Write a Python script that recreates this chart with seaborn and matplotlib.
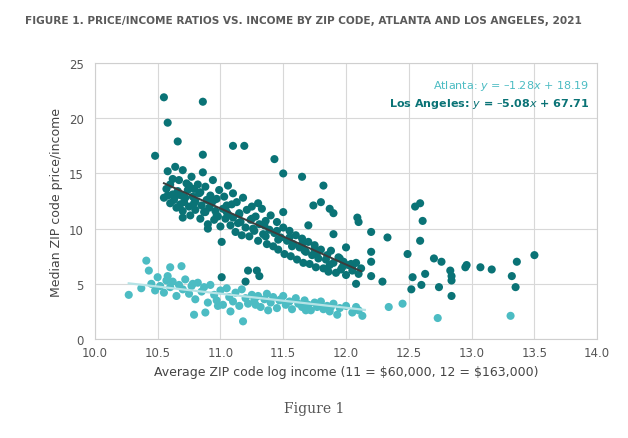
import matplotlib
matplotlib.use("Agg")
import matplotlib.pyplot as plt
import seaborn as sns
import numpy as np
import pandas as pd

# Los Angeles points (log income, price/income)
la_x = [10.55,10.86,10.58,10.66,10.48,10.86,11.10,11.19,11.43,11.50,11.65,11.82,11.74,11.80,11.87,11.90,
        12.09,12.10,12.20,12.33,12.55,12.59,12.61,12.59,12.49,12.70,12.76,12.83,12.84,12.84,12.95,12.96,
        13.07,13.16,13.36,13.50,13.32,13.35,12.84,12.74,12.63,12.53,12.52,12.60,12.29,12.20,12.08,12.20,12.20,
        11.01,11.22,11.29,11.31,11.20,11.01,
        10.55,10.57,10.58,10.60,10.60,10.62,10.63,10.64,10.65,10.66,10.67,10.68,10.69,10.70,10.70,10.72,10.73,
        10.74,10.75,10.76,10.77,10.78,10.79,10.80,10.80,10.82,10.83,10.84,10.85,10.86,10.87,10.88,10.89,10.90,
        10.91,10.92,10.93,10.94,10.95,10.96,10.97,10.98,10.99,11.00,11.02,11.03,11.04,11.05,11.06,11.08,11.09,
        11.10,11.12,11.13,11.14,11.15,11.17,11.18,11.20,11.21,11.23,11.24,11.25,11.27,11.28,11.30,11.31,11.33,
        11.34,11.36,11.37,11.39,11.40,11.42,11.43,11.45,11.46,11.48,11.50,11.51,11.53,11.55,11.56,11.58,11.60,
        11.61,11.63,11.65,11.66,11.68,11.70,11.71,11.73,11.75,11.76,11.78,11.80,11.82,11.84,11.86,11.88,11.90,
        11.92,11.94,11.96,11.98,12.00,12.02,12.05,12.08,12.10,12.12,10.62,10.75,10.84,10.95,11.05,11.15,11.25,
        11.35,11.45,11.55,11.65,11.75,11.85,11.95,12.05,10.70,10.90,11.10,11.30,11.50,11.70,11.90,12.00,
        10.58,10.64,10.71,10.79,10.88,10.97,11.06,11.16,11.26,11.36,11.46,11.57,11.67,11.77,11.87,11.97,12.04]
la_y = [21.9,21.5,19.6,17.9,16.6,16.7,17.5,17.5,16.3,15.0,14.7,13.9,12.1,12.4,11.8,11.4,
        11.0,10.6,9.7,9.2,12.0,12.3,10.7,8.9,7.7,7.3,7.0,6.2,5.7,5.3,6.5,6.7,
        6.5,6.3,7.0,7.6,5.7,4.7,3.9,4.7,5.9,5.6,4.5,4.9,5.2,5.7,5.0,7.9,7.0,
        5.6,6.2,6.2,5.7,5.2,8.8,
        12.8,13.6,15.2,12.3,14.0,13.1,12.6,15.6,11.9,13.4,14.4,12.2,13.0,15.3,11.6,12.8,14.1,
        13.5,12.0,11.2,14.7,12.9,13.6,11.7,12.5,14.0,13.2,10.9,12.1,15.1,11.5,13.8,12.6,10.4,
        11.9,13.0,12.3,14.4,10.8,11.6,12.7,11.1,13.5,10.2,11.8,12.9,10.9,11.5,13.9,10.3,12.2,
        11.0,9.7,12.4,10.5,11.3,9.4,12.8,10.1,11.7,9.3,10.8,12.0,9.8,11.1,8.9,10.4,11.8,
        9.5,10.7,8.6,9.9,11.2,8.4,9.6,10.6,8.1,9.2,10.1,7.7,8.9,9.8,7.5,8.6,9.4,
        7.2,8.3,9.1,6.9,7.9,8.8,6.8,7.6,8.5,6.5,7.3,8.1,6.4,7.2,6.1,8.0,6.9,
        6.0,7.4,6.3,7.0,5.8,6.7,6.2,6.9,5.9,6.4,14.5,13.9,13.3,12.6,12.1,11.4,10.9,
        10.3,9.8,9.2,8.6,8.1,7.6,7.3,6.6,11.0,10.0,13.2,12.3,11.5,10.3,9.5,8.3,
        13.0,12.9,12.4,12.3,11.5,11.2,11.3,10.6,10.0,9.3,9.0,8.4,8.0,7.8,6.7,6.5,6.8]

# Atlanta points
atl_x = [10.27,10.41,10.43,10.37,10.60,10.69,10.79,11.18,11.93,12.13,12.34,12.45,12.73,13.31,
         10.45,10.48,10.50,10.52,10.55,10.57,10.60,10.62,10.65,10.67,10.70,10.72,10.75,10.77,10.80,10.82,
         10.85,10.87,10.90,10.92,10.95,10.97,11.00,11.02,11.05,11.07,11.10,11.12,11.15,11.17,11.20,11.22,
         11.25,11.27,11.30,11.32,11.35,11.37,11.40,11.42,11.45,11.47,11.50,11.52,11.55,11.57,11.60,11.62,
         11.65,11.67,11.70,11.72,11.75,11.77,11.80,11.82,11.85,11.87,11.90,11.95,12.00,12.05,12.08,12.10,
         10.58,10.78,10.98,11.08,11.28,11.48,11.68,11.88,10.88,11.38]
atl_y = [4.0,7.1,6.2,4.6,6.5,6.6,2.2,1.6,2.2,2.1,2.9,3.2,1.9,2.1,
         5.0,4.4,5.6,4.8,4.2,5.3,4.7,5.2,3.9,4.9,4.5,5.4,4.1,4.8,3.6,5.1,
         4.3,4.7,3.3,4.9,4.0,3.5,4.4,3.1,4.6,3.8,3.4,4.2,3.0,4.5,3.7,3.2,
         4.0,3.5,3.9,2.9,3.6,4.1,3.3,3.8,2.8,3.5,3.9,3.1,3.4,2.7,3.7,3.2,
         2.9,3.5,3.1,2.6,3.3,2.9,3.4,2.7,3.0,2.5,3.2,2.8,3.0,2.4,2.9,2.6,
         5.7,5.0,3.0,2.5,3.1,3.6,2.6,2.9,2.4,2.6]

title = "FIGURE 1. PRICE/INCOME RATIOS VS. INCOME BY ZIP CODE, ATLANTA AND LOS ANGELES, 2021"
xticks = [10.0,10.5,11.0,11.5,12.0,12.5,13.0,13.5,14.0]
yticks = [0,5,10,15,20,25]

la_c = "#0a7376"
atl_c = "#4cbcc3"

df = pd.concat([pd.DataFrame({"x": la_x, "y": la_y, "city": "Los Angeles"}),
                pd.DataFrame({"x": atl_x, "y": atl_y, "city": "Atlanta"})])

fig = plt.figure(figsize=(6.28, 4.39), dpi=100)
ax = fig.add_axes([0.151, 0.2255, 0.80, 0.6285])
sns.scatterplot(data=df, x="x", y="y", hue="city", palette={"Los Angeles": la_c, "Atlanta": atl_c},
                s=34, edgecolor="none", legend=False, ax=ax, zorder=3)

xs = np.array([10.27, 12.15])
ax.plot(xs, -1.28 * xs + 18.19, color="#b5e3e6", lw=1.6, zorder=4)
xs2 = np.array([10.55, 12.12])
ax.plot(xs2, -5.08 * xs2 + 67.71, color="#3d3d3d", lw=1.4, zorder=4)

ax.set_xlim(10, 14); ax.set_ylim(0, 25)
ax.set_xticks(xticks); ax.set_yticks(yticks)
ax.set_xticklabels([f"{t:.1f}" for t in xticks])
ax.grid(True, color="#d8d8d8", lw=0.8, zorder=0)
for s in ax.spines.values():
    s.set_color("#cfcfcf")
ax.tick_params(axis="x", length=0, labelsize=8.5, colors="#555555", pad=5)
ax.tick_params(axis="y", length=0, labelsize=8.5, colors="#555555", pad=8)
ax.set_xlabel("Average ZIP code log income (11 = \\$60,000, 12 = \\$163,000)", fontsize=9, color="#444444")
ax.set_ylabel("Median ZIP code price/income", fontsize=9, color="#444444")

ax.text(0.985, 0.91, "Atlanta: $y$ = –1.28$x$ + 18.19", transform=ax.transAxes, ha="right",
        fontsize=8, color=atl_c)
ax.text(0.985, 0.845, "Los Angeles: $y$ = –5.08$x$ + 67.71", transform=ax.transAxes, ha="right",
        fontsize=8, color=la_c, fontweight="bold")

fig.text(0.04, 0.945, title, fontsize=7.6, fontweight="bold", color="#5a5a5a", ha="left")
fig.text(0.5, 0.06, "Figure 1", fontsize=10, color="#555555", ha="center", family="DejaVu Serif")

fig.savefig("out.png", dpi=100)
